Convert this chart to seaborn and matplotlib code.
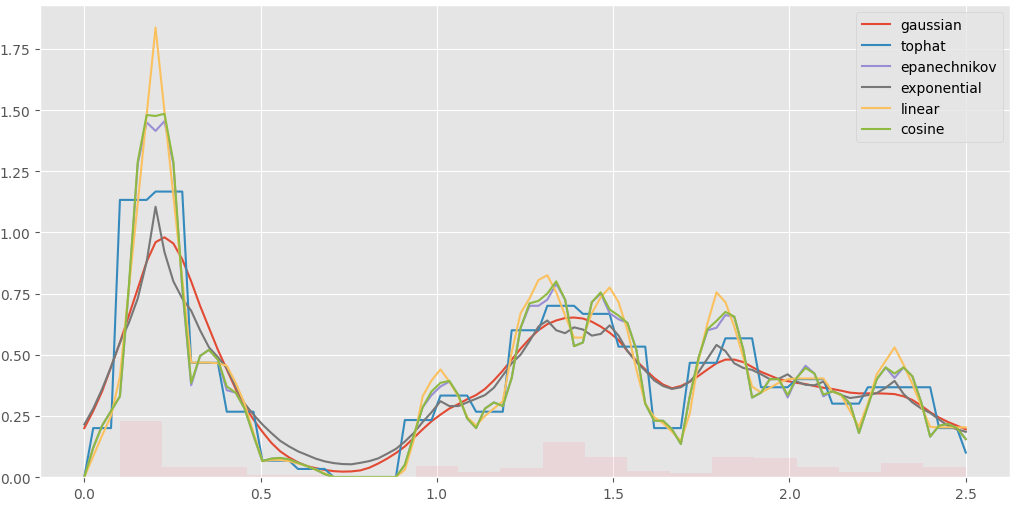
import numpy as np
import pandas as pd
import matplotlib
matplotlib.use("Agg")
import matplotlib.pyplot as plt
import seaborn as sns

# ---------------- data ----------------
x_grid = np.linspace(0, 2.5, 100)

gaussian = [
    0.20, 0.27, 0.35, 0.45, 0.55, 0.66, 0.77, 0.88, 0.96, 0.98,
    0.955, 0.89, 0.80, 0.70, 0.61, 0.52, 0.44, 0.36, 0.29, 0.235,
    0.185, 0.14, 0.105, 0.08, 0.06, 0.045, 0.036, 0.029, 0.024, 0.022,
    0.023, 0.027, 0.038, 0.055, 0.075, 0.098, 0.125, 0.16, 0.195, 0.228,
    0.255, 0.28, 0.298, 0.318, 0.335, 0.36, 0.395, 0.435, 0.48, 0.525,
    0.565, 0.60, 0.625, 0.64, 0.65, 0.652, 0.648, 0.635, 0.615, 0.59,
    0.56, 0.515, 0.475, 0.44, 0.405, 0.378, 0.363, 0.372, 0.39, 0.414,
    0.44, 0.465, 0.48, 0.48, 0.47, 0.45, 0.43, 0.415, 0.40, 0.392,
    0.385, 0.38, 0.372, 0.365, 0.36, 0.353, 0.345, 0.342, 0.342, 0.342,
    0.341, 0.339, 0.33, 0.315, 0.292, 0.265, 0.243, 0.225, 0.21, 0.195,
]

tophat = [
    0.0, 0.2, 0.2, 0.2, 1.133, 1.133, 1.133, 1.133, 1.167, 1.167,
    1.167, 1.167, 0.467, 0.467, 0.467, 0.467, 0.267, 0.267, 0.267, 0.267,
    0.067, 0.067, 0.067, 0.067, 0.033, 0.033, 0.033, 0.033, 0.0, 0.0,
    0.0, 0.0, 0.0, 0.0, 0.0, 0.0, 0.233, 0.233, 0.233, 0.233,
    0.333, 0.333, 0.333, 0.333, 0.267, 0.267, 0.267, 0.267, 0.6, 0.6,
    0.6, 0.6, 0.7, 0.7, 0.7, 0.7, 0.667, 0.667, 0.667, 0.667,
    0.533, 0.533, 0.533, 0.533, 0.2, 0.2, 0.2, 0.2, 0.467, 0.467,
    0.467, 0.467, 0.567, 0.567, 0.567, 0.567, 0.367, 0.367, 0.367, 0.367,
    0.4, 0.4, 0.4, 0.4, 0.3, 0.3, 0.3, 0.3, 0.367, 0.367,
    0.367, 0.367, 0.367, 0.367, 0.367, 0.367, 0.2, 0.2, 0.2, 0.1,
]

epanechnikov = [
    0.0, 0.12, 0.21, 0.27, 0.33, 0.77, 1.28, 1.45, 1.415, 1.455,
    1.28, 0.77, 0.375, 0.495, 0.52, 0.48, 0.355, 0.345, 0.28, 0.17,
    0.065, 0.075, 0.078, 0.072, 0.058, 0.045, 0.03, 0.012, 0.0, 0.0,
    0.0, 0.0, 0.0, 0.0, 0.0, 0.0, 0.05, 0.17, 0.285, 0.335,
    0.37, 0.39, 0.335, 0.24, 0.20, 0.28, 0.305, 0.29, 0.405, 0.61,
    0.70, 0.70, 0.725, 0.79, 0.725, 0.535, 0.55, 0.715, 0.75, 0.67,
    0.645, 0.63, 0.52, 0.30, 0.23, 0.23, 0.195, 0.135, 0.33, 0.49,
    0.60, 0.61, 0.662, 0.655, 0.523, 0.325, 0.345, 0.40, 0.40, 0.325,
    0.405, 0.455, 0.423, 0.33, 0.35, 0.337, 0.30, 0.18, 0.29, 0.40,
    0.448, 0.405, 0.448, 0.412, 0.305, 0.165, 0.21, 0.217, 0.20, 0.155,
]

exponential = [
    0.215, 0.28, 0.36, 0.45, 0.55, 0.63, 0.73, 0.88, 1.105, 0.92,
    0.80, 0.73, 0.68, 0.60, 0.53, 0.49, 0.445, 0.37, 0.30, 0.255,
    0.215, 0.18, 0.148, 0.125, 0.105, 0.09, 0.075, 0.064, 0.057, 0.053,
    0.052, 0.058, 0.065, 0.076, 0.095, 0.115, 0.145, 0.18, 0.225, 0.265,
    0.31, 0.29, 0.29, 0.305, 0.32, 0.335, 0.365, 0.415, 0.465, 0.50,
    0.555, 0.615, 0.64, 0.60, 0.588, 0.612, 0.603, 0.578, 0.585, 0.62,
    0.578, 0.515, 0.47, 0.435, 0.395, 0.372, 0.36, 0.367, 0.39, 0.43,
    0.485, 0.54, 0.515, 0.465, 0.446, 0.438, 0.42, 0.40, 0.402, 0.42,
    0.39, 0.377, 0.375, 0.39, 0.352, 0.335, 0.323, 0.328, 0.335, 0.343,
    0.365, 0.393, 0.34, 0.305, 0.28, 0.262, 0.235, 0.21, 0.195, 0.185,
]

linear = [
    0.0, 0.085, 0.17, 0.25, 0.41, 0.77, 1.12, 1.48, 1.837, 1.495,
    1.15, 0.81, 0.468, 0.468, 0.468, 0.465, 0.455, 0.385, 0.30, 0.18,
    0.065, 0.07, 0.07, 0.065, 0.055, 0.045, 0.03, 0.015, 0.0, 0.0,
    0.0, 0.0, 0.0, 0.0, 0.0, 0.0, 0.03, 0.15, 0.33, 0.395,
    0.44, 0.39, 0.33, 0.245, 0.21, 0.25, 0.28, 0.31, 0.51, 0.67,
    0.73, 0.805, 0.825, 0.755, 0.66, 0.57, 0.57, 0.67, 0.735, 0.775,
    0.715, 0.60, 0.44, 0.30, 0.245, 0.22, 0.185, 0.148, 0.26, 0.48,
    0.63, 0.755, 0.715, 0.615, 0.49, 0.37, 0.345, 0.365, 0.385, 0.40,
    0.403, 0.403, 0.403, 0.403, 0.35, 0.335, 0.27, 0.205, 0.30, 0.42,
    0.475, 0.53, 0.46, 0.38, 0.29, 0.205, 0.203, 0.203, 0.203, 0.203,
]

cosine = [
    0.0, 0.12, 0.21, 0.27, 0.33, 0.78, 1.29, 1.48, 1.476, 1.485,
    1.29, 0.78, 0.385, 0.495, 0.52, 0.48, 0.37, 0.345, 0.28, 0.17,
    0.065, 0.075, 0.078, 0.072, 0.058, 0.045, 0.03, 0.012, 0.0, 0.0,
    0.0, 0.0, 0.0, 0.0, 0.0, 0.0, 0.05, 0.17, 0.285, 0.35,
    0.385, 0.393, 0.335, 0.24, 0.20, 0.28, 0.305, 0.29, 0.405, 0.61,
    0.71, 0.72, 0.75, 0.80, 0.725, 0.535, 0.55, 0.715, 0.755, 0.685,
    0.66, 0.63, 0.52, 0.30, 0.23, 0.23, 0.195, 0.135, 0.33, 0.49,
    0.605, 0.638, 0.675, 0.656, 0.523, 0.325, 0.345, 0.40, 0.40, 0.335,
    0.405, 0.446, 0.423, 0.337, 0.35, 0.337, 0.30, 0.18, 0.29, 0.40,
    0.448, 0.423, 0.448, 0.412, 0.305, 0.165, 0.21, 0.217, 0.20, 0.155,
]

kernel_names = ["gaussian", "tophat", "epanechnikov", "exponential", "linear", "cosine"]

hist_edges = [0.10, 0.22, 0.34, 0.46, 0.58, 0.70, 0.82, 0.94, 1.06, 1.18, 1.30,
              1.42, 1.54, 1.66, 1.78, 1.90, 2.02, 2.14, 2.26, 2.38, 2.50]
hist_heights = [
    0.228, 0.042, 0.042, 0.008, 0.008, 0.0, 0.0, 0.044, 0.019, 0.035,
    0.142, 0.080, 0.023, 0.015, 0.080, 0.077, 0.040, 0.022, 0.056, 0.040,
]

# ---------------- plot ----------------
plt.style.use("ggplot")
colors = ["#E24A33", "#348ABD", "#988ED5", "#777777", "#FBC15E", "#8EBA42"]

fig, ax = plt.subplots(figsize=(10.24, 5.06), dpi=100)
fig.subplots_adjust(left=0.0393, right=0.9862, top=0.9877, bottom=0.0553)

edges = np.asarray(hist_edges)
hist_df = pd.DataFrame({
    "center": (edges[:-1] + edges[1:]) / 2,
    "height": hist_heights,
})
sns.histplot(data=hist_df, x="center", weights="height", bins=list(hist_edges),
             stat="count", color="#FF818E", alpha=0.15, linewidth=0, ax=ax)

series = [gaussian, tophat, epanechnikov, exponential, linear, cosine]
for name, vals, c in zip(kernel_names, series, colors):
    sns.lineplot(x=x_grid, y=np.asarray(vals), color=c, label=name,
                 linewidth=1.5, ax=ax)

ax.set_xlim(-0.125, 2.625)
ax.set_ylim(0, None)
ax.set_xticks([0.0, 0.5, 1.0, 1.5, 2.0, 2.5])
ax.set_xlabel("")
ax.set_ylabel("")
ax.legend(loc="upper right")

fig.savefig("out.png", dpi=100)
